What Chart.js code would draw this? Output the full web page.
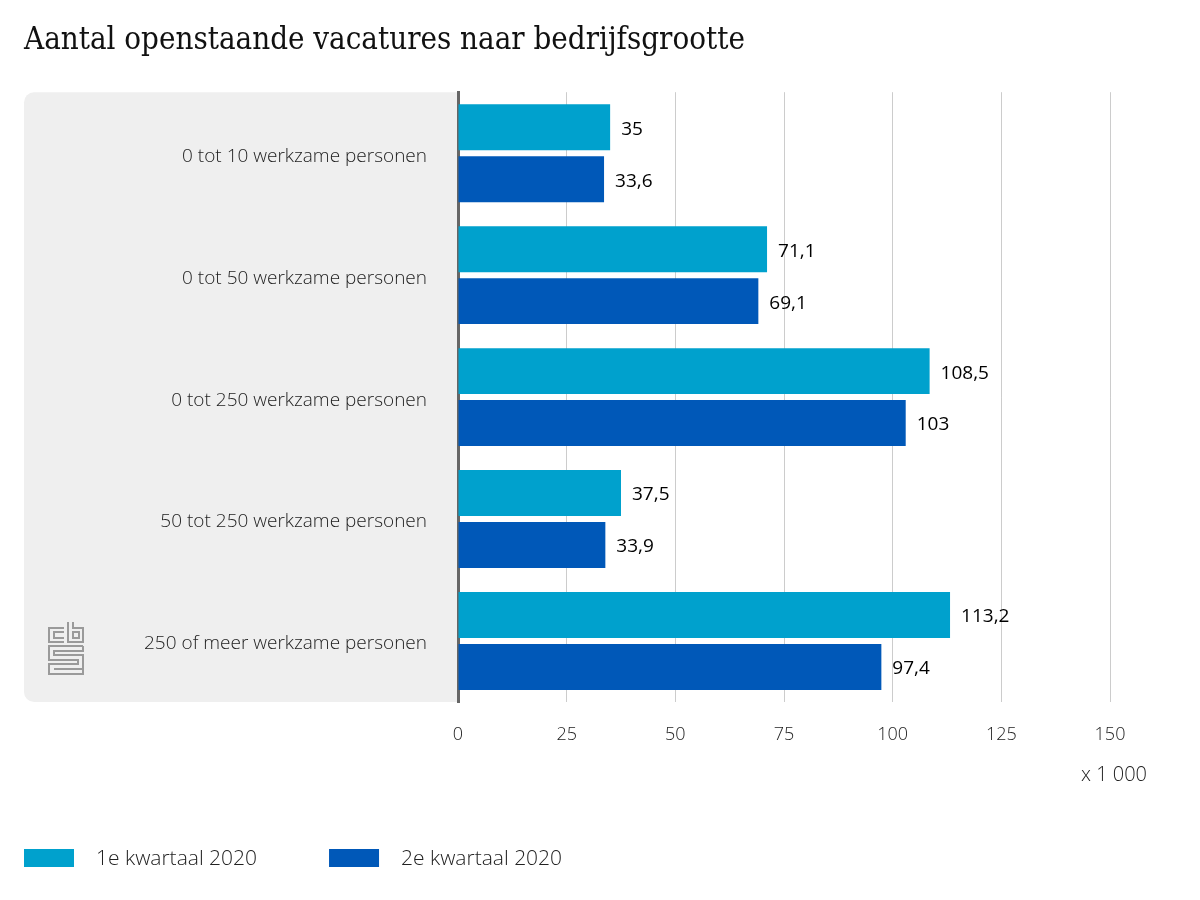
<!DOCTYPE html>
<html>
<head>
<meta charset="utf-8">
<script src="https://cdn.jsdelivr.net/npm/chart.js@4.4.1/dist/chart.umd.min.js"></script>
<style>
  html, body { margin: 0; padding: 0; background: #fff; }
  #wrap { width: 1200px; height: 900px; }
</style>
</head>
<body>
<div id="wrap"><canvas id="chart"></canvas></div>
<script>
// values x 1 000
const categories = [
  '0 tot 10 werkzame personen',
  '0 tot 50 werkzame personen',
  '0 tot 250 werkzame personen',
  '50 tot 250 werkzame personen',
  '250 of meer werkzame personen'
];
const q1 = [35, 71.1, 108.5, 37.5, 113.2];
const q2 = [33.6, 69.1, 103, 33.9, 97.4];
const seriesNames = ['1e kwartaal 2020', '2e kwartaal 2020'];
const seriesColors = ['#00a1cd', '#0058b8'];

const FONT = "'Open Sans', 'Noto Sans', sans-serif";
const TEXT = '#222';

// grey panel behind the category labels, the cbs logo, value labels and legend
const panelPlugin = {
  id: 'panel',
  beforeDraw(chart) {
    const { ctx, chartArea } = chart;
    const x0 = 24, r = 10;
    ctx.save();
    ctx.fillStyle = '#efefef';
    ctx.beginPath();
    ctx.roundRect(x0, chartArea.top, chartArea.left - x0, chartArea.bottom - chartArea.top, [r, 0, 0, r]);
    ctx.fill();

    // cbs logo (rough line drawing)
    const lx = 48, ly = chartArea.bottom - 80;
    ctx.strokeStyle = '#9a9a9a';
    ctx.lineWidth = 2;
    ctx.beginPath();
    // c
    ctx.moveTo(lx + 16, ly + 6); ctx.lineTo(lx + 1, ly + 6); ctx.lineTo(lx + 1, ly + 20); ctx.lineTo(lx + 16, ly + 20);
    ctx.moveTo(lx + 16, ly + 10); ctx.lineTo(lx + 6, ly + 10); ctx.lineTo(lx + 6, ly + 16); ctx.lineTo(lx + 16, ly + 16);
    // b
    ctx.moveTo(lx + 20, ly + 0); ctx.lineTo(lx + 20, ly + 20); ctx.lineTo(lx + 35, ly + 20); ctx.lineTo(lx + 35, ly + 6); ctx.lineTo(lx + 25, ly + 6); ctx.lineTo(lx + 25, ly + 0);
    ctx.rect(lx + 25, ly + 10, 6, 6);
    // s
    ctx.moveTo(lx + 35, ly + 24); ctx.lineTo(lx + 1, ly + 24); ctx.lineTo(lx + 1, ly + 38); ctx.lineTo(lx + 30, ly + 38);
    ctx.lineTo(lx + 30, ly + 42); ctx.lineTo(lx + 1, ly + 42); ctx.lineTo(lx + 1, ly + 52); ctx.lineTo(lx + 35, ly + 52);
    ctx.lineTo(lx + 35, ly + 33); ctx.lineTo(lx + 6, ly + 33); ctx.lineTo(lx + 6, ly + 29); ctx.lineTo(lx + 35, ly + 29); ctx.lineTo(lx + 35, ly + 24);
    ctx.moveTo(lx + 6, ly + 47); ctx.lineTo(lx + 35, ly + 47);
    ctx.stroke();
    ctx.restore();
  },
  afterDatasetsDraw(chart) {
    const { ctx, chartArea } = chart;
    ctx.save();
    ctx.font = '19px ' + FONT;
    ctx.fillStyle = '#000';
    ctx.textBaseline = 'middle';
    ctx.textAlign = 'left';
    chart.data.datasets.forEach((ds, i) => {
      chart.getDatasetMeta(i).data.forEach((bar, j) => {
        const txt = String(ds.data[j]).replace('.', ',');
        ctx.fillText(txt, bar.x + 11, bar.y + 2);
      });
    });
    // unit label under the x axis
    ctx.font = '300 20px ' + FONT;
    ctx.fillStyle = TEXT;
    ctx.textAlign = 'right';
    ctx.fillText('x 1 000', chartArea.right + 37, chartArea.bottom + 73);

    // legend
    ctx.font = '300 21px ' + FONT;
    ctx.textAlign = 'left';
    let x = 24;
    const y = chartArea.bottom + 147;
    chart.data.datasets.forEach((ds) => {
      ctx.fillStyle = ds.backgroundColor;
      ctx.fillRect(x, y, 50, 18);
      ctx.fillStyle = TEXT;
      ctx.fillText(ds.label, x + 72, y + 10);
      x += 72 + ctx.measureText(ds.label).width + 72;
    });
    ctx.restore();
  }
};

new Chart(document.getElementById('chart'), {
  type: 'bar',
  data: {
    labels: categories,
    datasets: [
      { label: seriesNames[0], data: q1, backgroundColor: seriesColors[0] },
      { label: seriesNames[1], data: q2, backgroundColor: seriesColors[1] }
    ]
  },
  options: {
    indexAxis: 'y',
    responsive: true,
    maintainAspectRatio: false,
    animation: false,
    categoryPercentage: 0.852,
    barPercentage: 0.885,
    layout: { padding: { left: 24, right: 90, top: 0, bottom: 61 } },
    plugins: {
      title: {
        display: true,
        text: 'Aantal openstaande vacatures naar bedrijfsgrootte',
        align: 'start',
        color: '#111',
        font: { family: "'DejaVu Serif Condensed', 'Liberation Serif', serif", size: 31, weight: 'normal' },
        padding: { top: 22, bottom: 33 }
      },
      legend: { display: false },
      tooltip: { enabled: false }
    },
    scales: {
      x: {
        min: 0,
        max: 150,
        ticks: { stepSize: 25, color: TEXT, padding: 22, font: { family: FONT, size: 18, weight: '300' } },
        grid: { color: '#cccccc', drawTicks: false },
        border: { display: false },
        afterFit(scale) { scale.height = 137; }
      },
      y: {
        ticks: { color: TEXT, padding: 23, labelOffset: 3, font: { family: FONT, size: 19, weight: '300' } },
        grid: { display: false },
        border: { color: '#666', width: 3 },
        afterFit(scale) { scale.width = 434; }
      }
    }
  },
  plugins: [panelPlugin]
});
</script>
</body>
</html>
